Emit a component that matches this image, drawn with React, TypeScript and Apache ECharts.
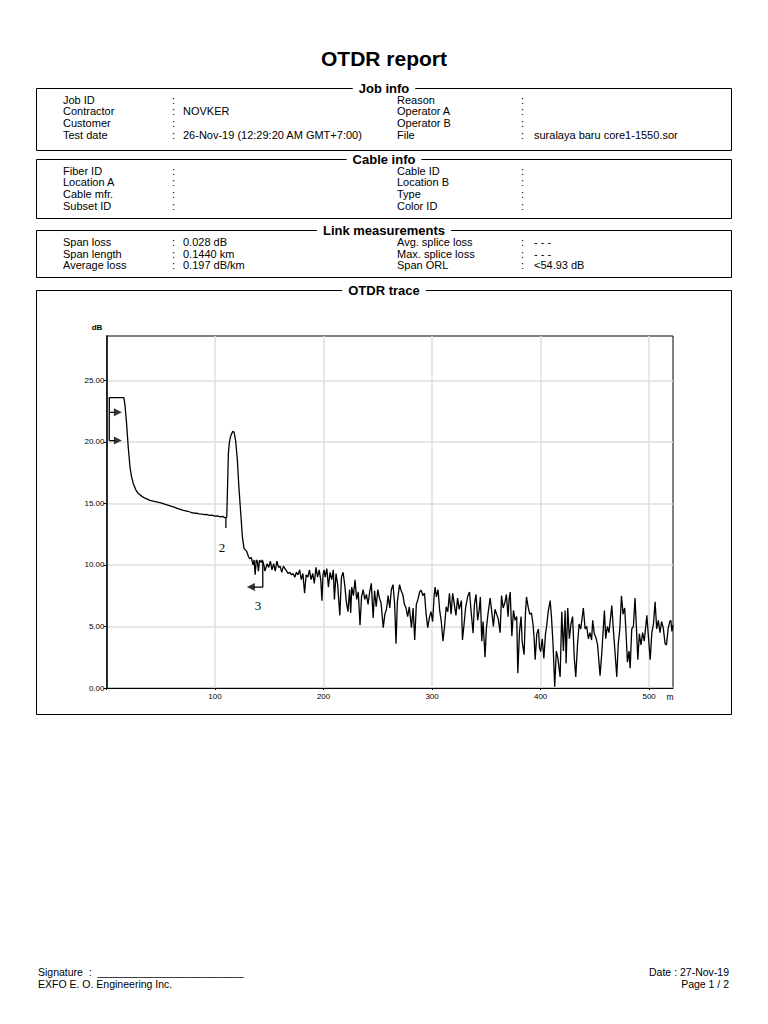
import React, { useEffect, useRef } from "react";
import * as echarts from "echarts";

// ---------- Report texts ----------
const reportTitle = "OTDR report";
const jobInfoLeft: [string, string][] = [
  ["Job ID", ""],
  ["Contractor", "NOVKER"],
  ["Customer", ""],
  ["Test date", "26-Nov-19 (12:29:20 AM GMT+7:00)"],
];
const jobInfoRight: [string, string][] = [
  ["Reason", ""],
  ["Operator A", ""],
  ["Operator B", ""],
  ["File", "suralaya baru core1-1550.sor"],
];
const cableInfoLeft: [string, string][] = [
  ["Fiber ID", ""],
  ["Location A", ""],
  ["Cable mfr.", ""],
  ["Subset ID", ""],
];
const cableInfoRight: [string, string][] = [
  ["Cable ID", ""],
  ["Location B", ""],
  ["Type", ""],
  ["Color ID", ""],
];
const linkLeft: [string, string][] = [
  ["Span loss", "0.028 dB"],
  ["Span length", "0.1440 km"],
  ["Average loss", "0.197 dB/km"],
];
const linkRight: [string, string][] = [
  ["Avg. splice loss", "- - -"],
  ["Max. splice loss", "- - -"],
  ["Span ORL", "<54.93 dB"],
];
const footerLeft = ["Signature  :  _________________________", "EXFO E. O. Engineering Inc."];
const footerRight = ["Date : 27-Nov-19", "Page 1 / 2"];

// ---------- Trace data (distance m, level dB) ----------
const launchSegment: [number, number][] = [
  [2.5, 20.1], [2.6, 23.6], [16, 23.6], [17, 23.0], [18.5, 21.5], [20, 19.6], [21.7, 17.9],
  [23, 17.2], [24.7, 16.6], [27, 16.1], [29.3, 15.8], [33, 15.55], [36, 15.4], [40, 15.25],
];
const fiberSegment: [number, number][] = [
  [45, 15.15], [50, 15.05], [55, 14.9], [60, 14.75], [63, 14.68], [65, 14.6], [68, 14.52],
  [70, 14.46], [73, 14.4], [75, 14.36], [78, 14.26], [80, 14.22], [83, 14.2], [85, 14.14],
  [88, 14.12], [90, 14.08], [92, 14.1], [95, 14.02], [97, 14.04], [100, 13.96], [102, 13.99],
  [105, 13.9], [107, 13.94], [109, 13.84], [110.3, 13.86],
];
const reflectionSegment: [number, number][] = [
  [110.8, 13.9], [111.4, 15.8], [112.3, 19.05], [113.3, 20.0], [114.5, 20.5], [116.3, 20.85],
  [117.5, 20.8], [119, 20.1], [120.6, 18.5], [122, 16.3], [123.7, 14.2], [125.2, 12.3],
  [126.7, 11.35], [129.2, 11.1],
];
const noiseSegment: [number, number][] = [
  [130.7, 10.7], [132, 10.5], [133.5, 10.6], [135, 10.0], [136, 10.4], [137, 9.2], [138, 10.4],
  [139, 10.3], [140, 9.5], [141, 10.4], [142.5, 10.2], [143.5, 10.4], [145, 10.0], [146, 9.5],
  [148, 10.1], [149.5, 9.8], [151, 10.3], [152.5, 9.6], [154, 10.1], [155.5, 9.5], [157, 10.3],
  [158.5, 9.8], [160, 9.9], [161.5, 9.4], [163, 9.9], [164.5, 9.7], [166, 9.5], [167.5, 9.3],
  [169, 9.4], [170.5, 9.2], [172, 9.3], [173.5, 9.0], [175, 9.4], [176.5, 9.2], [178, 9.6],
  [179.5, 8.8], [181, 9.3], [182.5, 7.7], [184, 9.2], [185.5, 9.0], [187, 9.6], [188.5, 8.8],
  [190, 9.3], [191.5, 8.5], [193, 9.8], [194.5, 9.0], [196, 9.6], [197.5, 8.7], [198.5, 7.1],
  [199.5, 9.2], [200.5, 9.6], [201.5, 9.0], [203, 9.7], [204.5, 8.2], [206, 9.4], [207.5, 8.8],
  [209, 9.6], [210, 7.2], [211.5, 9.3], [213, 8.4], [215, 5.9], [216.5, 9.0], [218, 9.4],
  [219.5, 8.4], [221, 7.0], [222.5, 6.2], [224, 8.0], [225, 6.1], [226, 8.2], [227.5, 7.5],
  [229, 8.8], [230.5, 7.2], [232, 7.8], [233.6, 5.1], [235, 7.4], [236.5, 8.0], [238, 7.2],
  [239.5, 7.6], [241, 6.8], [242.5, 7.8], [244, 8.5], [245.7, 5.7], [247, 7.9], [248.5, 6.6],
  [250, 8.0], [251.5, 7.3], [253, 6.9], [255, 4.9], [256.5, 6.0], [258, 6.4], [259.5, 7.5],
  [261, 6.5], [262.5, 8.0], [264, 8.4], [265.5, 6.8], [266.8, 3.6], [268, 7.0], [270, 8.4],
  [271.5, 7.9], [273, 7.6], [274.5, 6.8], [276, 6.5], [277.5, 5.8], [279, 6.6], [281, 4.9],
  [282.5, 6.5], [284, 3.9], [285.5, 6.8], [287, 7.2], [288.5, 7.8], [290, 7.95], [291.5, 7.5],
  [293, 7.7], [294.5, 6.0], [296, 4.9], [297.5, 5.7], [299, 6.2], [300.5, 5.4], [302, 7.6],
  [302.8, 8.2], [304, 7.4], [305.5, 8.0], [307, 6.3], [308.5, 5.4], [310, 3.8], [311.5, 5.0],
  [313, 6.6], [314.5, 6.2], [316, 7.7], [317.5, 6.0], [319, 7.7], [320.5, 6.8], [322, 5.9],
  [323.5, 7.3], [325, 6.4], [327, 7.1], [328, 3.9], [329.5, 5.2], [331, 6.6], [333, 7.5],
  [334.5, 7.8], [336, 6.2], [337.8, 4.45], [339, 6.8], [340.5, 7.6], [342, 5.5], [343.5, 6.4],
  [344.5, 7.4], [345.8, 3.8], [347, 5.4], [348.8, 2.5], [350, 4.8], [351.5, 6.0], [353.5, 7.3],
  [355, 6.2], [356.5, 5.0], [358, 6.4], [359.5, 6.0], [361, 5.6], [362.7, 4.5], [364, 7.5],
  [365.5, 6.5], [367, 6.9], [368.5, 7.6], [370, 5.8], [371, 7.2], [372, 7.8], [373.5, 4.2],
  [375, 6.3], [376.5, 5.5], [378, 5.8], [379, 1.2], [380.5, 4.5], [382, 5.8], [383, 3.8],
  [384.8, 2.7], [386, 6.0], [387, 7.4], [388.5, 6.6], [390, 6.0], [391.5, 6.1], [393, 5.2],
  [394, 4.1], [395, 2.3], [396.5, 4.4], [398, 4.8], [399, 3.3], [400, 2.95], [401.5, 4.0],
  [403, 2.4], [404.5, 4.4], [405.7, 5.1], [407, 6.2], [408.8, 7.1], [410, 5.8], [411.5, 3.5],
  [413, 0.1], [414.5, 3.0], [416, 2.4], [417, 1.6], [418, 0.9], [419.5, 6.2], [421, 3.0],
  [422.6, 6.3], [423.5, 2.0], [425, 6.5], [426.5, 4.0], [428, 5.2], [429.5, 5.8], [431, 2.5],
  [432.4, 0.9], [434, 3.5], [435.5, 5.2], [437, 4.8], [439.4, 6.5], [441, 4.8], [442.5, 5.0],
  [444, 4.0], [445.5, 4.5], [447, 3.9], [448, 5.5], [449.5, 4.4], [451, 4.1], [452.5, 3.5],
  [454.8, 1.0], [456.5, 3.0], [458.8, 6.3], [460, 4.0], [461.5, 5.0], [463, 4.5], [465.6, 6.7],
  [467, 4.8], [468.5, 3.0], [470.2, 0.9], [471.5, 3.5], [473, 4.8], [474.5, 7.5], [476, 6.0],
  [477.5, 6.5], [479, 4.0], [480, 2.1], [481.5, 3.0], [482.5, 1.6], [484, 4.8], [485.5, 5.0],
  [487, 7.3], [488.5, 4.5], [489.6, 2.3], [491, 4.4], [492.5, 3.5], [494, 4.5], [495.5, 3.8],
  [497.9, 5.9], [499.5, 4.0], [501, 2.3], [502.5, 4.5], [504, 5.2], [505.5, 7.0], [507, 4.8],
  [508.5, 5.5], [510, 4.5], [511.5, 5.4], [513, 4.9], [514.7, 3.6], [516, 3.5], [517.5, 4.8],
  [519, 5.4], [520, 5.5], [521, 4.6], [522, 5.1],
];

// ---------- Event markers ----------
const markerSegments: [number, number][][] = [
  [[2.5, 22.4], [8, 22.4]],
  [[2.5, 20.1], [8, 20.1]],
  [[110, 13.85], [110, 13.0]],
  [[144, 10.3], [144, 8.2], [135, 8.2]],
];
const markerArrows: { value: [number, number]; rotate: number }[] = [
  { value: [10.5, 22.4], rotate: -90 },
  { value: [10.5, 20.1], rotate: -90 },
  { value: [133, 8.2], rotate: 90 },
];
const markerLabels: { name: string; value: [number, number] }[] = [
  { name: "2", value: [106.5, 11.45] },
  { name: "3", value: [139.5, 6.7] },
];

// ---------- Axes ----------
const xMax = 522;
const yMax = 28.6;
const xStep = 100;
const yStep = 5;
const xTicks = [0, 100, 200, 300, 400, 500];
const yTicks = [0, 5, 10, 15, 20, 25];

const FONT = '"Liberation Sans", Arial, sans-serif';
const SERIF = '"Liberation Serif", "DejaVu Serif", serif';

function txt(x: number, y: number, text: string, opts: any = {}) {
  const align = opts.align || "left";
  return {
    type: "text",
    x,
    y,
    z: opts.z || 20,
    style: {
      text,
      fill: "#000",
      font: opts.font || `11px ${FONT}`,
      textAlign: align,
      align,
      textVerticalAlign: "middle",
      verticalAlign: "middle",
      ...(opts.bg ? { backgroundColor: "#fff", padding: [0, 6] } : {}),
    },
  };
}

function section(title: string, top: number, bottom: number, firstRow: number, left: [string, string][], right: [string, string][]) {
  const els: any[] = [];
  els.push({
    type: "rect",
    z: 5,
    shape: { x: 36.5, y: top + 0.5, width: 695, height: bottom - top },
    style: { fill: "none", stroke: "#000", lineWidth: 1 },
  });
  els.push(txt(384, top, title, { align: "center", font: `bold 13px ${FONT}`, bg: true, z: 30 }));
  const rowH = 11.7;
  left.forEach(([k, v], i) => {
    const y = firstRow + i * rowH;
    els.push(txt(63, y, k));
    els.push(txt(172, y, ":"));
    if (v) els.push(txt(183, y, v));
  });
  right.forEach(([k, v], i) => {
    const y = firstRow + i * rowH;
    els.push(txt(397, y, k));
    els.push(txt(521, y, ":"));
    if (v) els.push(txt(534, y, v));
  });
  return els;
}

export default function App() {
  const ref = useRef<HTMLDivElement>(null);
  useEffect(() => {
    if (!ref.current) return;
    const chart = echarts.init(ref.current, null, { renderer: "svg" });

    const graphic: any[] = [
      txt(384, 58, reportTitle, { align: "center", font: `bold 21px ${FONT}` }),
      ...section("Job info", 88, 150, 99.5, jobInfoLeft, jobInfoRight),
      ...section("Cable info", 159, 218, 170.5, cableInfoLeft, cableInfoRight),
      ...section("Link measurements", 230, 277, 242, linkLeft, linkRight),
      {
        type: "rect",
        z: 5,
        shape: { x: 36.5, y: 290.5, width: 695, height: 424 },
        style: { fill: "none", stroke: "#000", lineWidth: 1 },
      },
      txt(384, 290, "OTDR trace", { align: "center", font: `bold 13px ${FONT}`, bg: true, z: 30 }),
      txt(97, 327, "dB", { align: "center", font: `bold 8px ${FONT}` }),
      txt(670, 696.5, "m", { align: "center", font: `8.5px ${FONT}` }),
      txt(38, 972, footerLeft[0], { font: `10.5px ${FONT}` }),
      txt(38, 984, footerLeft[1], { font: `10.5px ${FONT}` }),
      txt(729, 972, footerRight[0], { align: "right", font: `10.5px ${FONT}` }),
      txt(729, 984, footerRight[1], { align: "right", font: `10.5px ${FONT}` }),
    ];

    const trace = [...launchSegment, ...fiberSegment, ...reflectionSegment, ...noiseSegment];

    const series: any[] = [
      {
        type: "line",
        data: trace,
        showSymbol: false,
        symbol: "none",
        lineStyle: { color: "#000", width: 1.3 },
        z: 3,
      },
      ...markerSegments.map((seg) => ({
        type: "line",
        data: seg,
        showSymbol: false,
        symbol: "none",
        lineStyle: { color: "#000", width: 1.3 },
        z: 4,
      })),
      {
        type: "scatter",
        symbol: "triangle",
        symbolSize: [8, 8],
        itemStyle: { color: "#000" },
        data: markerArrows.map((a) => ({ value: a.value, symbolRotate: a.rotate })),
        z: 5,
      },
    ];

    chart.setOption({
      animation: false,
      backgroundColor: "#fff",
      graphic,
      grid: { left: 106.5, top: 336, width: 566.5, height: 352, show: true, borderColor: "#000", borderWidth: 1, backgroundColor: "transparent" },
      xAxis: {
        type: "value",
        min: 0,
        max: xMax,
        interval: xStep,
        axisLine: { show: true, lineStyle: { color: "#000", width: 1 } },
        axisTick: { show: true, length: 2, lineStyle: { color: "#000" }, customValues: xTicks },
        axisLabel: {
          color: "#000",
          fontSize: 8,
          fontFamily: FONT,
          margin: 4,
          customValues: xTicks.filter((v) => v > 0),
          formatter: (v: number) => (v > 0 && v % xStep === 0 ? String(v) : ""),
        },
        splitLine: { show: true, lineStyle: { color: "#dedede", width: 1.5 } },
      },
      yAxis: {
        type: "value",
        min: 0,
        max: yMax,
        interval: yStep,
        axisLine: { show: true, lineStyle: { color: "#000", width: 1.6 } },
        axisTick: { show: true, length: 3, lineStyle: { color: "#000" }, customValues: yTicks },
        axisLabel: {
          color: "#000",
          fontSize: 8,
          fontFamily: FONT,
          margin: 2,
          customValues: yTicks,
          formatter: (v: number) => (v % yStep === 0 ? v.toFixed(2) : ""),
        },
        splitLine: { show: true, lineStyle: { color: "#dedede", width: 1.5 } },
      },
      series,
    });

    // Marker numbers placed through the chart's own scales
    const labelEls = markerLabels.map((m) => {
      const p = chart.convertToPixel({ gridIndex: 0 }, m.value) as number[];
      return txt(p[0], p[1], m.name, { align: "center", font: `13px ${SERIF}`, z: 40 });
    });
    chart.setOption({ graphic: [...graphic, ...labelEls] });

    return () => chart.dispose();
  }, []);

  return <div ref={ref} style={{ position: "absolute", left: 0, top: 0, width: 768, height: 1024 }} />;
}
